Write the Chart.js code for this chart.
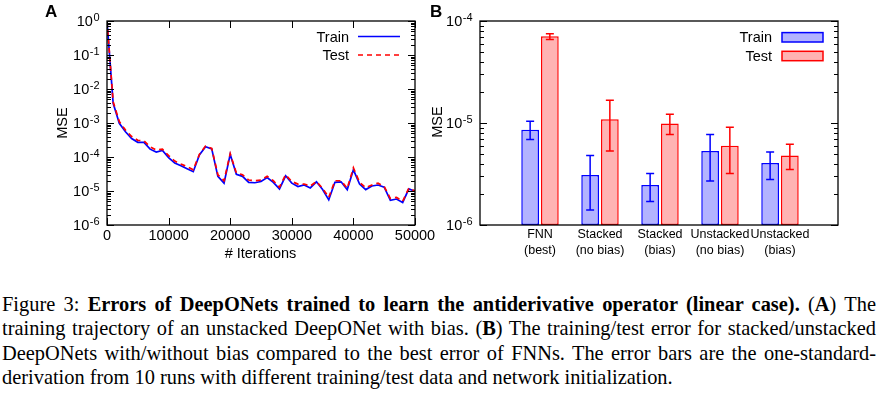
<!DOCTYPE html>
<html>
<head>
<meta charset="utf-8">
<script src="https://cdn.jsdelivr.net/npm/chart.js@4"></script>
<style>
  body { margin: 0; background: #fff; width: 882px; height: 394px; position: relative; overflow: hidden; }
  canvas { position: absolute; top: 0; }
  #chartA { left: 0; }
  #chartB { left: 420px; }
  #cap { position: absolute; left: 2px; top: 291.5px; width: 874px; font: 20.4px "Liberation Serif", "Times New Roman", serif; line-height: 24.5px; color: #000; }
  #cap .j { text-align: justify; text-align-last: justify; }
</style>
</head>
<body>
<canvas id="chartA" width="440" height="270"></canvas>
<canvas id="chartB" width="462" height="270"></canvas>
<div id="cap">
  <div class="j">Figure 3: <b>Errors of DeepONets trained to learn the antiderivative operator (linear case).</b> (<b>A</b>) The</div>
  <div class="j">training trajectory of an unstacked DeepONet with bias. (<b>B</b>) The training/test error for stacked/unstacked</div>
  <div class="j">DeepONets with/without bias compared to the best error of FNNs. The error bars are the one-standard-</div>
  <div>derivation from 10 runs with different training/test data and network initialization.</div>
</div>
<script>
// panel A: training trajectory
const iterations = [0, 1000, 2000, 3000, 4000, 5000, 6000, 7000, 8000, 9000, 10000,
  11000, 12000, 13000, 14000, 15000, 16000, 17000, 18000, 19000, 20000,
  21000, 22000, 23000, 24000, 25000, 26000, 27000, 28000, 29000, 30000,
  31000, 32000, 33000, 34000, 35000, 36000, 37000, 38000, 39000, 40000,
  41000, 42000, 43000, 44000, 45000, 46000, 47000, 48000, 49000, 50000];
const trainMSE = [1.0, 3.8e-3, 9.8e-4, 5.5e-4, 3.5e-4, 2.7e-4, 2.7e-4, 1.7e-4, 1.4e-4, 1.55e-4, 9.6e-5,
  6.6e-5, 5.5e-5, 4.5e-5, 3.7e-5, 1.15e-4, 2.0e-4, 1.74e-4, 2.7e-5, 1.7e-5, 1.2e-4,
  3.1e-5, 2.7e-5, 1.8e-5, 1.75e-5, 1.9e-5, 2.5e-5, 1.8e-5, 1.15e-5, 2.8e-5, 1.7e-5,
  1.35e-5, 1.5e-5, 1.23e-5, 1.86e-5, 1.1e-5, 5.5e-6, 1.8e-5, 1.86e-5, 1.1e-5, 4.2e-5,
  1.6e-5, 1.1e-5, 1.4e-5, 1.5e-5, 1.3e-5, 5.3e-6, 5.8e-6, 4.6e-6, 1.15e-5, 9.8e-6];
const testMSE = [1.0, 4.2e-3, 1.1e-3, 6.2e-4, 4.0e-4, 3.1e-4, 3.0e-4, 2.0e-4, 1.6e-4, 1.7e-4, 1.1e-4,
  7.6e-5, 6.2e-5, 5.2e-5, 4.2e-5, 1.2e-4, 2.1e-4, 1.8e-4, 3.0e-5, 2.0e-5, 1.25e-4,
  3.4e-5, 3.0e-5, 2.1e-5, 2.0e-5, 2.1e-5, 2.7e-5, 2.0e-5, 1.3e-5, 3.0e-5, 1.9e-5,
  1.6e-5, 1.6e-5, 1.4e-5, 1.9e-5, 1.2e-5, 6.5e-6, 2.0e-5, 2.0e-5, 1.2e-5, 4.8e-5,
  1.8e-5, 1.25e-5, 1.5e-5, 1.7e-5, 1.35e-5, 6.0e-6, 6.5e-6, 5.0e-6, 1.2e-5, 1.0e-5];
const iterTicks = [0, 10000, 20000, 30000, 40000, 50000];

// panel B: final errors
const categories = [['FNN', '(best)'], ['Stacked', '(no bias)'], ['Stacked', '(bias)'],
  ['Unstacked', '(no bias)'], ['Unstacked', '(bias)']];
const trainErr = [8.6e-6, 3.1e-6, 2.46e-6, 5.3e-6, 4.05e-6];
const trainLow = [6.9e-6, 1.4e-6, 1.7e-6, 2.7e-6, 2.8e-6];
const trainHigh = [1.04e-5, 4.8e-6, 3.2e-6, 7.7e-6, 5.2e-6];
const testErr = [7.1e-5, 1.09e-5, 9.9e-6, 6.0e-6, 4.8e-6];
const testLow = [6.6e-5, 5.3e-6, 7.7e-6, 3.2e-6, 3.5e-6];
const testHigh = [7.5e-5, 1.67e-5, 1.22e-5, 9.1e-6, 6.2e-6];

const SANS = '"Liberation Sans", Arial, Helvetica, sans-serif';
Chart.defaults.font.family = SANS;
Chart.defaults.color = '#000';

// gnuplot-like frame: box, inward ticks, 10^n labels, titles, legend, error bars
const gp = {
  id: 'gp',
  afterDatasetsDraw(chart, args, o) {
    const { ctx, chartArea: a } = chart;
    const x = chart.scales.x, y = chart.scales.y;
    ctx.save();

    if (o.errors) {
      o.errors.forEach((e, i) => {
        const meta = chart.getDatasetMeta(i);
        ctx.strokeStyle = chart.data.datasets[i].borderColor;
        ctx.lineWidth = 1.5;
        meta.data.forEach((bar, j) => {
          const lo = y.getPixelForValue(e.low[j]);
          const hi = y.getPixelForValue(e.high[j]);
          ctx.beginPath();
          ctx.moveTo(bar.x, lo); ctx.lineTo(bar.x, hi);
          ctx.moveTo(bar.x - 4, lo); ctx.lineTo(bar.x + 4, lo);
          ctx.moveTo(bar.x - 4, hi); ctx.lineTo(bar.x + 4, hi);
          ctx.stroke();
        });
      });
    }

    ctx.strokeStyle = '#000';
    ctx.lineWidth = 1.3;
    ctx.strokeRect(a.left, a.top, a.right - a.left, a.bottom - a.top);

    // log y ticks
    ctx.lineWidth = 1;
    const e0 = Math.round(Math.log10(y.min)), e1 = Math.round(Math.log10(y.max));
    ctx.beginPath();
    for (let e = e0; e <= e1; e++) {
      for (let m = 1; m <= 9; m++) {
        const v = m * Math.pow(10, e);
        if (v > y.max * 1.0001) break;
        const py = Math.round(y.getPixelForValue(v)) + 0.5;
        const len = m === 1 ? 7 : 4;
        ctx.moveTo(a.left, py); ctx.lineTo(a.left + len, py);
        ctx.moveTo(a.right, py); ctx.lineTo(a.right - len, py);
      }
    }
    if (o.xTicks) {
      o.xTicks.forEach(v => {
        const px = Math.round(x.getPixelForValue(v)) + 0.5;
        ctx.moveTo(px, a.bottom); ctx.lineTo(px, a.bottom - 7);
        ctx.moveTo(px, a.top); ctx.lineTo(px, a.top + 7);
      });
    }
    ctx.stroke();

    // 10^n labels
    ctx.fillStyle = '#000';
    ctx.textBaseline = 'alphabetic';
    ctx.textAlign = 'right';
    for (let e = e0; e <= e1; e++) {
      const py = y.getPixelForValue(Math.pow(10, e));
      const right = a.left - 7.5;
      const sup = String(e);
      ctx.font = '11px ' + SANS;
      const w = ctx.measureText(sup).width;
      ctx.fillText(sup, right, py - 0.5);
      ctx.font = '14.5px ' + SANS;
      ctx.fillText('10', right - w - 0.5, py + 5);
    }

    // titles and panel letter
    ctx.textAlign = 'center';
    ctx.textBaseline = 'middle';
    ctx.font = '14.5px ' + SANS;
    ctx.save();
    ctx.translate(o.yTitle.x, o.yTitle.y);
    ctx.rotate(-Math.PI / 2);
    ctx.fillText(o.yTitle.text, 0, 0);
    ctx.restore();
    if (o.xTitle) ctx.fillText(o.xTitle.text, o.xTitle.x, o.xTitle.y);
    ctx.font = 'bold 17px ' + SANS;
    ctx.textAlign = 'left';
    ctx.textBaseline = 'alphabetic';
    ctx.fillText(o.letter.text, o.letter.x, o.letter.y);

    // legend: label left of sample, gnuplot style
    ctx.font = '14.5px ' + SANS;
    ctx.textAlign = 'right';
    ctx.textBaseline = 'middle';
    o.legend.rows.forEach((ry, i) => {
      const ds = chart.data.datasets[o.legend.order[i]];
      const cy = a.top + ry;
      ctx.fillStyle = '#000';
      ctx.fillText(ds.label, a.right - 66, cy + 1);
      if (o.legend.box) {
        ctx.fillStyle = ds.backgroundColor;
        ctx.fillRect(a.right - 56, cy - 4.7, 41, 9.4);
        ctx.strokeStyle = ds.borderColor;
        ctx.lineWidth = 1.5;
        ctx.strokeRect(a.right - 56, cy - 4.7, 41, 9.4);
      } else {
        ctx.strokeStyle = ds.borderColor;
        ctx.lineWidth = ds.borderWidth;
        ctx.setLineDash(ds.borderDash || []);
        ctx.beginPath();
        ctx.moveTo(a.right - 57, cy); ctx.lineTo(a.right - 15, cy);
        ctx.stroke();
        ctx.setLineDash([]);
      }
    });
    ctx.restore();
  }
};

new Chart(document.getElementById('chartA'), {
  type: 'line',
  data: {
    labels: iterations,
    datasets: [
      { label: 'Train', data: trainMSE, borderColor: '#0000ff', borderWidth: 1.7, pointRadius: 0, tension: 0, order: 1 },
      { label: 'Test', data: testMSE, borderColor: '#ff0000', borderWidth: 1.7, borderDash: [5, 4], pointRadius: 0, tension: 0, order: 0 },
    ],
  },
  options: {
    responsive: false,
    animation: false,
    layout: { padding: { left: 0, top: 21, right: 25, bottom: 0 } },
    scales: {
      x: {
        type: 'linear', min: 0, max: 50000,
        grid: { display: false, drawTicks: false },
        border: { display: false },
        ticks: { stepSize: 10000, padding: 2, maxRotation: 0, font: { size: 14.5 }, callback: v => String(v) },
        afterFit: s => { s.height = 45; },
      },
      y: {
        type: 'logarithmic', min: 1e-6, max: 1,
        grid: { display: false, drawTicks: false },
        border: { display: false },
        ticks: { display: false },
        afterFit: s => { s.width = 107; },
      },
    },
    plugins: {
      legend: { display: false },
      tooltip: { enabled: false },
      gp: {
        xTicks: iterTicks,
        yTitle: { text: 'MSE', x: 62.5, y: 123 },
        xTitle: { text: '# Iterations', x: 260.5, y: 254 },
        letter: { text: 'A', x: 45, y: 17 },
        legend: { rows: [15.5, 34], order: [0, 1], box: false },
      },
    },
  },
  plugins: [gp],
});

new Chart(document.getElementById('chartB'), {
  type: 'bar',
  data: {
    datasets: [
      { label: 'Train', data: trainErr.map((v, i) => ({ x: i + 1, y: v })),
        backgroundColor: '#b3b3ff', borderColor: '#0000ff', borderWidth: 1.5, borderSkipped: false },
      { label: 'Test', data: testErr.map((v, i) => ({ x: i + 1, y: v })),
        backgroundColor: '#ffb3b3', borderColor: '#ff0000', borderWidth: 1.5, borderSkipped: false },
    ],
  },
  options: {
    responsive: false,
    animation: false,
    layout: { padding: { left: 0, top: 21, right: 44, bottom: 0 } },
    categoryPercentage: 0.657,
    barPercentage: 0.9,
    scales: {
      x: {
        type: 'linear', min: 0, max: 5.967, offset: false,
        grid: { display: false, drawTicks: false, offset: false },
        border: { display: false },
        afterBuildTicks: s => { s.ticks = categories.map((c, i) => ({ value: i + 1 })); },
        ticks: {
          autoSkip: false, maxRotation: 0, padding: 2,
          font: { size: 12.5, lineHeight: 1.28 },
          callback: v => categories[v - 1] || '',
        },
        afterFit: s => { s.height = 45; },
      },
      y: {
        type: 'logarithmic', min: 1e-6, max: 1e-4,
        grid: { display: false, drawTicks: false },
        border: { display: false },
        ticks: { display: false },
        afterFit: s => { s.width = 60; },
      },
    },
    plugins: {
      legend: { display: false },
      tooltip: { enabled: false },
      gp: {
        errors: [{ low: trainLow, high: trainHigh }, { low: testLow, high: testHigh }],
        yTitle: { text: 'MSE', x: 17.5, y: 122 },
        letter: { text: 'B', x: 10, y: 17 },
        legend: { rows: [16.3, 35], order: [0, 1], box: true },
      },
    },
  },
  plugins: [gp],
});
</script>
</body>
</html>
